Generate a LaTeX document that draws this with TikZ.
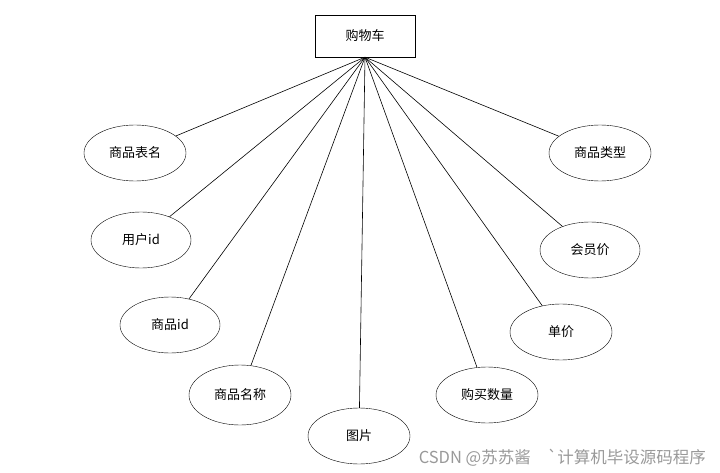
\documentclass[tikz,border=0pt]{standalone}
\usepackage{fontspec}
\newfontfamily\cjk{Noto Sans CJK SC}
\usetikzlibrary{shapes.geometric}
\begin{document}
\begin{tikzpicture}[x=1pt,y=-1pt,
  attr/.style={draw,ellipse,minimum width=102pt,minimum height=56pt,inner sep=0pt,font=\cjk\fontsize{13}{15}\selectfont},
  ent/.style={draw,rectangle,minimum width=100pt,minimum height=42pt,font=\cjk\fontsize{13}{15}\selectfont},
  conn/.style={draw,line width=0.6pt}]
\useasboundingbox (0,0) rectangle (720,473);
\node[ent] (car) at (365,36) {购物车};
\coordinate (hub) at (car.south);
\node[attr] (a1) at (135,153) {商品表名};
\node[attr,minimum width=100pt] (a2) at (141,240) {用户id};
\node[attr,minimum width=100pt] (a3) at (170,325) {商品id};
\node[attr,minimum height=60pt] (a4) at (240,395) {商品名称};
\node[attr] (a5) at (359,436) {图片};
\node[attr] (a6) at (487,395) {购买数量};
\node[attr] (a7) at (561,332) {单价};
\node[attr,minimum width=100pt] (a8) at (590,250) {会员价};
\node[attr] (a9) at (600,153) {商品类型};
\foreach \n in {a1,a2,a3,a4,a5,a6,a7,a8,a9} \draw[conn] (hub) -- (\n);
\node[anchor=south east,text=gray!80,font=\cjk\fontsize{16.5}{18}\selectfont,inner sep=2pt] (wm) at (708,469) {CSDN @苏苏酱\quad `计算机毕设源码程序};
\end{tikzpicture}
\end{document}
